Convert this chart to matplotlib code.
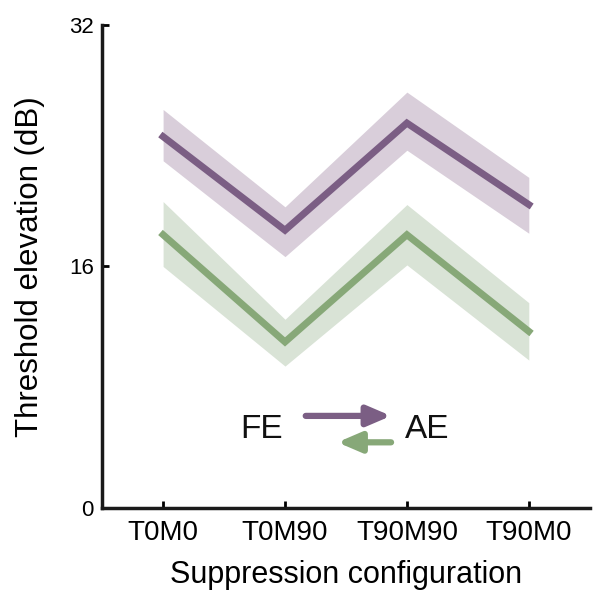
import matplotlib
matplotlib.use("Agg")
import matplotlib.pyplot as plt
import numpy as np

plt.rcParams['font.family'] = ['Liberation Sans', 'DejaVu Sans']

categories = ["T0M0", "T0M90", "T90M90", "T90M0"]
fe_ae_mean = [24.6, 18.4, 25.5, 20.1]
fe_ae_upper = [26.4, 19.95, 27.55, 21.9]
fe_ae_lower = [23.0, 16.65, 23.7, 18.2]
ae_fe_mean = [18.1, 11.0, 18.1, 11.7]
ae_fe_upper = [20.3, 12.5, 20.1, 13.6]
ae_fe_lower = [16.0, 9.4, 16.1, 9.8]
yticks = [0, 16, 32]

purple = "#7b5e84"
purple_band = "#d9ceda"
green = "#87a878"
green_band = "#d9e3d6"

fig = plt.figure(figsize=(6.08, 6.08), dpi=100)
ax = fig.add_axes([0.168, 0.1645, 0.802, 0.7945])
x = np.arange(len(categories))

ax.fill_between(x, fe_ae_lower, fe_ae_upper, color=purple_band, lw=0)
ax.fill_between(x, ae_fe_lower, ae_fe_upper, color=green_band, lw=0)
ax.plot(x, fe_ae_mean, color=purple, lw=5, solid_joinstyle='miter')
ax.plot(x, ae_fe_mean, color=green, lw=5, solid_joinstyle='miter')

ax.set_xlim(-0.5, 3.5)
ax.set_ylim(0, 32)
ax.set_xticks(x)
ax.set_xticklabels(categories, fontsize=20)
ax.set_yticks(yticks)
ax.set_yticklabels([str(v) for v in yticks], fontsize=16)
ax.tick_params(direction='in', length=5, width=2)
ax.tick_params(axis='x', pad=9)
ax.tick_params(axis='y', pad=6)
for s in ['top', 'right']:
    ax.spines[s].set_visible(False)
for s in ['left', 'bottom']:
    ax.spines[s].set_linewidth(2.5)
    ax.spines[s].set_color("#1a1a1a")

ax.set_xlabel("Suppression configuration", fontsize=22, labelpad=10)
ax.set_ylabel("Threshold elevation (dB)", fontsize=22.5, labelpad=17)

ax.text(0.81, 5.2, "FE", fontsize=24, ha='center', va='center', color='#111111')
ax.text(2.17, 5.2, "AE", fontsize=24, ha='center', va='center', color='#111111')
ax.annotate("", xy=(1.87, 6.1), xytext=(1.17, 6.1),
            arrowprops=dict(arrowstyle="-|>,head_length=1.4,head_width=0.6",
                            color=purple, lw=4.5, shrinkA=0, shrinkB=0))
ax.annotate("", xy=(1.43, 4.35), xytext=(1.87, 4.35),
            arrowprops=dict(arrowstyle="-|>,head_length=1.4,head_width=0.6",
                            color=green, lw=4.5, shrinkA=0, shrinkB=0))

fig.savefig("out.png", dpi=100)
